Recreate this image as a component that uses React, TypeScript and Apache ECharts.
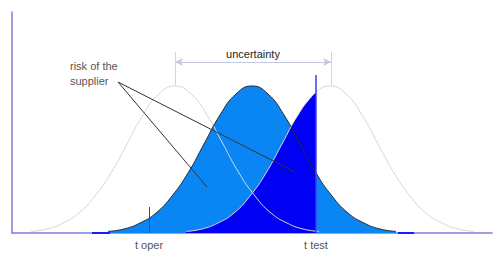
import React, { useEffect, useRef } from "react";
import * as echarts from "echarts";

// Curve samples (x in px-like units, height above baseline)
const leftCurveX = [31, 47, 63, 79, 95, 111, 127, 143, 159, 175, 191, 207, 223, 239, 255, 271, 287, 303, 319];
const leftCurveY = [1.6, 4, 10, 20, 37, 60, 89, 118, 139, 147, 139, 118, 89, 60, 37, 20, 10, 4, 1.6];

const midCurveX = [108, 124, 140, 156, 172, 188, 204, 220, 236, 252, 268, 284, 300, 316, 332, 348, 364, 380, 396];
const midCurveY = [1.6, 4, 10, 20, 37, 60, 89, 118, 139, 147, 139, 118, 89, 60, 37, 20, 10, 4, 1.6];

const rightCurveX = [186, 202, 218, 234, 250, 266, 282, 298, 314, 330, 346, 362, 378, 394, 410, 426, 442, 458, 474];
const rightCurveY = [1.6, 4, 10, 20, 37, 60, 89, 118, 139, 147, 139, 118, 89, 60, 37, 20, 10, 4, 1.6];

// risk region: right curve cut at t test
const riskX = [186, 202, 218, 234, 250, 266, 282, 298, 314, 316];
const riskY = [1.6, 4, 10, 20, 37, 60, 89, 118, 139, 141];

const tOper = 149;
const tTest = 316;
const tOperLineTop = 26;
const tTestLineTop = 158;
const peakLeft = 175;
const peakRight = 331;
const uncertaintyY = 171;
const uncertaintyTickTop = 181;
const uncertaintyTickBottom = 148;
const riskLabelPos = [70, 175];
const riskPointer = [118, 151];
const riskTargets = [
  [207, 46],
  [295, 61],
];
const baselineBits = [
  [92, 110],
  [398, 414],
];

const FONT = "'Liberation Sans', Arial, sans-serif";

const zip = (xs: number[], ys: number[]) => xs.map((x, i) => [x, ys[i]]);

export default function App() {
  const ref = useRef<HTMLDivElement>(null);
  useEffect(() => {
    if (!ref.current) return;
    const chart = echarts.init(ref.current, undefined, { renderer: "svg" });
    const noSym = { symbol: "none" };
    const plainLine = (a: number[], b: number[], color: string, width = 1) => [
      { coord: a, symbol: "none", lineStyle: { color, width, type: "solid" }, label: { show: false } },
      { coord: b, symbol: "none" },
    ];
    chart.setOption({
      animation: false,
      grid: { left: 12, right: 12, top: 12, bottom: 40 },
      xAxis: {
        type: "value",
        min: 12,
        max: 492,
        axisLine: { show: true, lineStyle: { color: "#7d7dd8", width: 1.5 } },
        axisTick: { show: false },
        axisLabel: { show: false },
        splitLine: { show: false },
      },
      yAxis: {
        type: "value",
        min: 0,
        max: 221,
        axisLine: { show: true, lineStyle: { color: "#7d7dd8", width: 1.5 } },
        axisTick: { show: false },
        axisLabel: { show: false },
        splitLine: { show: false },
      },
      series: [
        {
          type: "line",
          ...noSym,
          smooth: true,
          data: zip(midCurveX, midCurveY),
          lineStyle: { width: 0 },
          areaStyle: { color: "#0a86f4", opacity: 1 },
          z: 1,
        },
        {
          type: "line",
          ...noSym,
          smooth: true,
          data: zip(riskX, riskY),
          lineStyle: { width: 0 },
          areaStyle: { color: "#0000f4", opacity: 1 },
          z: 2,
        },
        {
          type: "line",
          ...noSym,
          smooth: true,
          data: zip(leftCurveX, leftCurveY),
          lineStyle: { color: "#d6d6d6", width: 1 },
          z: 3,
        },
        {
          type: "line",
          ...noSym,
          smooth: true,
          data: zip(rightCurveX, rightCurveY),
          lineStyle: { color: "#d6d6d6", width: 1 },
          z: 3,
        },
        {
          type: "line",
          ...noSym,
          smooth: true,
          data: zip(midCurveX, midCurveY),
          lineStyle: { color: "#2a2a2a", width: 1 },
          z: 4,
        },
        {
          type: "line",
          data: [],
          z: 5,
          markLine: {
            silent: true,
            symbol: ["none", "none"],
            animation: false,
            label: { show: false },
            data: [
              [
                {
                  coord: [peakLeft, uncertaintyY],
                  symbol: "arrow",
                  symbolSize: [6, 8],
                  lineStyle: { color: "#c4c8e4", width: 1, type: "solid" },
                  label: {
                    show: true,
                    position: "insideMiddleTop",
                    formatter: "uncertainty",
                    color: "#222",
                    fontSize: 11,
                    fontFamily: FONT,
                    distance: 3,
                  },
                },
                { coord: [peakRight, uncertaintyY], symbol: "arrow", symbolSize: [6, 8] },
              ],
              plainLine([peakLeft, uncertaintyTickTop], [peakLeft, uncertaintyTickBottom], "#d0d2e6"),
              plainLine([peakRight, uncertaintyTickTop], [peakRight, uncertaintyTickBottom], "#d0d2e6"),
              plainLine([tOper, 0], [tOper, tOperLineTop], "#3a3ac8"),
              plainLine([tTest, 0], [tTest, tTestLineTop], "#3c3cf0", 1.5),
              plainLine(riskPointer, riskTargets[0], "#333"),
              plainLine(riskPointer, riskTargets[1], "#333"),
              plainLine([baselineBits[0][0], 0], [baselineBits[0][1], 0], "#1a1aff", 2),
              plainLine([baselineBits[1][0], 0], [baselineBits[1][1], 0], "#1a1aff", 2),
            ],
          },
        },
        {
          type: "scatter",
          symbolSize: 0,
          z: 6,
          data: [
            { value: [tOper, 0], name: "t oper" },
            { value: [tTest, 0], name: "t test" },
          ],
          label: {
            show: true,
            formatter: "{b}",
            position: "bottom",
            distance: 6,
            color: "#222",
            fontSize: 11,
            fontFamily: FONT,
          },
        },
        {
          type: "scatter",
          symbolSize: 0,
          z: 6,
          data: [{ value: riskLabelPos, name: "risk of the\nsupplier" }],
          label: {
            show: true,
            formatter: "{b}",
            position: [0, 0],
            align: "left",
            verticalAlign: "top",
            lineHeight: 15,
            color: "#222",
            fontSize: 11,
            fontFamily: FONT,
          },
        },
      ],
    });
    return () => chart.dispose();
  }, []);
  return (
    <div
      ref={ref}
      style={{ position: "fixed", left: 0, top: 0, width: 504, height: 273, background: "#fff" }}
    />
  );
}
